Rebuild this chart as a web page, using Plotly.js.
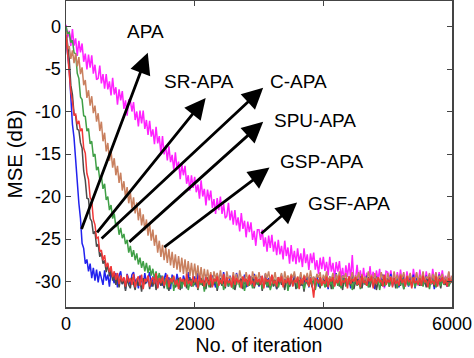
<!DOCTYPE html>
<html>
<head>
<meta charset="utf-8">
<script src="https://cdn.plot.ly/plotly-3.0.1.min.js"></script>
<style>html,body{margin:0;padding:0;background:#fff;}#chart{width:474px;height:358px;}</style>
</head>
<body>
<div id="chart"></div>
<script>
const iterations = [
0,25,50,75,100,125,150,175,200,225,250,275,300,325,350,375,400,425,450,475,
500,525,550,575,600,625,650,675,700,725,750,775,800,825,850,875,900,925,950,975,
1000,1025,1050,1075,1100,1125,1150,1175,1200,1225,1250,1275,1300,1325,1350,1375,1400,1425,1450,1475,
1500,1525,1550,1575,1600,1625,1650,1675,1700,1725,1750,1775,1800,1825,1850,1875,1900,1925,1950,1975,
2000,2025,2050,2075,2100,2125,2150,2175,2200,2225,2250,2275,2300,2325,2350,2375,2400,2425,2450,2475,
2500,2525,2550,2575,2600,2625,2650,2675,2700,2725,2750,2775,2800,2825,2850,2875,2900,2925,2950,2975,
3000,3025,3050,3075,3100,3125,3150,3175,3200,3225,3250,3275,3300,3325,3350,3375,3400,3425,3450,3475,
3500,3525,3550,3575,3600,3625,3650,3675,3700,3725,3750,3775,3800,3825,3850,3875,3900,3925,3950,3975,
4000,4025,4050,4075,4100,4125,4150,4175,4200,4225,4250,4275,4300,4325,4350,4375,4400,4425,4450,4475,
4500,4525,4550,4575,4600,4625,4650,4675,4700,4725,4750,4775,4800,4825,4850,4875,4900,4925,4950,4975,
5000,5025,5050,5075,5100,5125,5150,5175,5200,5225,5250,5275,5300,5325,5350,5375,5400,5425,5450,5475,
5500,5525,5550,5575,5600,5625,5650,5675,5700,5725,5750,5775,5800,5825,5850,5875,5900,5925,5950,5975,
6000];

const mseAPA = [
-1.5,-3.4,-5.0,-8.3,-11.5,-13.1,-16.0,-17.6,-20.8,-22.6,-25.5,-26.1,-27.9,-27.4,-28.8,-27.9,-29.6,-28.4,-29.9,-28.6,
-30.1,-28.8,-29.6,-30.4,-28.7,-29.9,-29.2,-30.6,-28.9,-29.5,-30.2,-29.0,-30.7,-29.3,-28.8,-30.3,-29.6,-30.9,-29.1,-29.8,
-30.4,-29.2,-28.9,-30.1,-29.7,-30.8,-29.3,-29.9,-30.5,-29.0,-30.2,-29.6,-28.9,-30.6,-29.4,-30.0,-29.1,-30.7,-29.8,-29.3,
-30.5,-29.7,-29.0,-30.3,-29.5,-30.9,-29.2,-29.8,-30.4,-29.1,-30.0,-29.6,-30.8,-29.3,-29.9,-30.2,-28.9,-30.5,-29.7,-30.1,
-29.4,-30.6,-29.0,-29.8,-30.3,-29.5,-30.9,-29.2,-30.1,-29.7,-30.5,-29.3,-29.9,-30.7,-29.1,-30.2,-29.6,-30.4,-28.9,-30.0,
-29.8,-30.6,-29.3,-30.1,-29.5,-30.8,-29.0,-29.9,-30.4,-29.6,-30.2,-29.2,-30.7,-29.7,-30.0,-29.4,-30.5,-29.1,-30.3,-29.8,
-30.6,-29.4,-29.9,-30.2,-29.1,-30.7,-29.6,-30.0,-29.3,-30.5,-29.8,-30.9,-29.5,-30.1,-29.2,-30.4,-29.7,-30.0,-29.4,-30.6,
-29.9,-30.3,-29.1,-30.8,-29.6,-30.0,-29.4,-30.5,-29.8,-30.2,-29.3,-30.7,-29.5,-30.1,-29.9,-30.4,-29.2,-30.6,-29.7,-30.0,
-29.5,-30.3,-29.8,-30.9,-29.4,-30.1,-29.6,-30.5,-29.0,-30.2,-29.7,-30.6,-29.3,-30.0,-29.8,-30.4,-29.5,-30.8,-29.2,-29.9,
-30.3,-29.6,-30.1,-29.4,-30.7,-29.8,-30.2,-29.3,-30.5,-29.7,-30.0,-29.5,-30.9,-29.4,-30.1,-29.8,-30.4,-29.2,-30.6,-29.9,
-29.6,-30.3,-29.1,-30.5,-29.8,-30.0,-29.4,-30.7,-29.7,-30.2,-29.3,-30.4,-29.9,-30.6,-29.5,-30.1,-29.2,-30.8,-29.6,-30.0,
-29.4,-30.5,-29.8,-30.2,-29.3,-30.6,-29.7,-30.0,-29.5,-30.9,-29.6,-30.3,-29.2,-30.4,-29.9,-30.1,-29.5,-30.6,-29.8,-30.2,
-29.7];

const mseSRAPA = [
-0.5,-2.3,-3.8,-6.9,-8.0,-10.3,-10.5,-12.1,-12.2,-13.7,-14.3,-17.0,-18.1,-20.2,-20.3,-22.6,-22.9,-24.4,-24.1,-25.9,
-25.6,-27.1,-26.6,-27.9,-27.5,-28.9,-28.0,-29.4,-28.6,-29.9,-29.0,-30.4,-29.3,-30.7,-29.5,-30.3,-29.8,-31.1,-29.6,-30.4,
-30.8,-29.5,-30.2,-31.0,-29.7,-30.5,-29.9,-31.2,-29.6,-30.3,-30.0,-29.4,-30.9,-29.8,-30.6,-29.5,-31.0,-30.1,-29.7,-30.5,
-29.9,-30.8,-29.6,-30.4,-31.1,-29.8,-30.2,-29.5,-30.7,-30.0,-29.6,-31.0,-29.9,-30.3,-29.7,-30.8,-30.1,-29.5,-30.6,-29.9,
-30.4,-29.7,-31.0,-30.0,-29.6,-30.5,-29.9,-30.9,-29.5,-30.2,-30.7,-29.8,-30.3,-29.6,-31.1,-30.0,-29.7,-30.5,-29.9,-30.8,
-29.6,-30.3,-29.9,-30.7,-29.5,-31.0,-30.1,-29.8,-30.4,-29.6,-30.9,-30.0,-29.7,-30.6,-29.9,-30.3,-29.5,-30.8,-30.1,-29.8,
-30.5,-29.6,-31.1,-29.9,-30.3,-29.7,-30.7,-30.0,-29.5,-30.6,-29.8,-30.9,-30.2,-29.6,-30.4,-29.9,-31.0,-29.7,-30.2,-30.6,
-29.8,-30.3,-29.6,-30.9,-30.0,-29.7,-30.5,-29.9,-31.2,-29.6,-30.3,-30.0,-29.8,-30.7,-29.5,-30.4,-30.1,-29.9,-30.8,-29.7,
-30.2,-29.6,-30.6,-30.0,-29.8,-30.9,-29.5,-30.3,-30.1,-29.7,-30.6,-29.9,-31.0,-29.6,-30.4,-30.2,-29.8,-30.5,-29.7,-30.9,
-30.0,-29.6,-30.4,-29.9,-30.8,-29.7,-30.3,-30.0,-29.5,-30.7,-29.9,-30.2,-29.6,-31.0,-30.1,-29.8,-30.5,-29.7,-30.3,-30.0,
-29.7,-30.6,-29.9,-30.2,-29.6,-30.8,-30.0,-29.8,-30.5,-29.6,-30.9,-30.1,-29.7,-30.4,-29.9,-30.6,-29.5,-30.3,-30.0,-29.8,
-30.5,-29.7,-30.2,-29.9,-30.7,-29.6,-30.4,-30.0,-29.8,-30.6,-29.7,-30.3,-29.9,-30.8,-29.6,-30.1,-30.4,-29.8,-30.2,-29.9,
-30.1];

const mseCAPA = [
-1.0,-3.3,-5.0,-7.7,-8.8,-10.4,-10.3,-11.5,-11.1,-12.3,-12.0,-14.3,-14.9,-17.3,-18.0,-20.1,-20.5,-22.7,-23.3,-24.9,
-24.8,-26.5,-26.3,-27.5,-26.9,-28.3,-27.8,-28.9,-28.2,-29.5,-28.8,-29.8,-29.0,-30.3,-29.3,-30.0,-29.5,-30.6,-29.2,-30.1,
-29.6,-30.4,-29.1,-30.7,-29.8,-29.4,-30.5,-29.2,-30.9,-29.7,-30.0,-29.3,-30.6,-29.8,-29.5,-30.3,-29.0,-30.8,-29.6,-30.2,
-29.4,-30.5,-29.9,-29.2,-30.7,-29.6,-30.1,-29.3,-30.4,-29.8,-30.9,-29.5,-30.0,-29.7,-30.6,-29.1,-30.3,-29.9,-30.5,-29.4,
-30.1,-29.6,-30.8,-29.3,-30.2,-29.8,-30.6,-29.5,-29.9,-30.4,-29.2,-30.7,-29.7,-30.0,-29.4,-30.5,-29.8,-30.3,-29.1,-30.6,
-29.5,-30.2,-29.9,-30.7,-29.3,-30.4,-29.6,-30.1,-29.8,-30.8,-29.4,-30.0,-29.7,-30.5,-29.2,-30.3,-29.9,-30.6,-29.5,-30.1,
-29.7,-30.4,-29.3,-30.8,-29.6,-30.0,-29.8,-30.5,-29.2,-30.3,-29.9,-30.6,-29.5,-30.1,-29.4,-30.7,-29.8,-30.2,-29.6,-30.4,
-29.3,-30.6,-29.8,-30.1,-29.5,-30.9,-29.7,-30.3,-29.4,-30.0,-29.9,-30.6,-29.6,-30.4,-31.9,-29.7,-29.8,-30.2,-29.5,-30.5,
-29.9,-30.3,-29.4,-30.7,-29.7,-30.0,-29.5,-30.6,-29.8,-30.2,-29.3,-30.5,-29.9,-30.1,-29.6,-30.8,-29.4,-30.3,-29.7,-30.0,
-29.5,-30.4,-29.8,-30.7,-29.3,-30.2,-29.9,-30.5,-29.6,-30.0,-29.4,-30.8,-29.7,-30.3,-29.5,-30.1,-29.8,-30.6,-29.2,-30.4,
-29.8,-30.1,-29.5,-30.7,-29.6,-30.3,-29.9,-30.5,-29.3,-30.2,-29.7,-30.6,-29.4,-30.0,-29.8,-30.8,-29.5,-30.2,-29.9,-30.4,
-29.6,-30.5,-29.3,-30.1,-29.8,-30.7,-29.5,-30.2,-29.9,-30.4,-29.4,-30.6,-29.7,-30.0,-29.5,-30.3,-29.8,-30.6,-29.6,-30.1,
-29.8];

const mseSPUAPA = [
0.0,-0.8,-0.7,-1.9,-1.6,-3.1,-3.2,-5.5,-6.1,-8.3,-8.6,-10.5,-10.6,-12.3,-12.0,-13.8,-13.5,-15.3,-15.0,-16.9,
-16.5,-18.0,-17.6,-19.1,-18.5,-20.4,-20.0,-21.6,-21.0,-22.6,-22.0,-23.6,-23.0,-24.5,-23.7,-24.9,-24.4,-25.6,-25.1,-26.6,
-25.8,-27.1,-26.3,-27.5,-26.7,-28.0,-27.2,-28.4,-27.6,-28.8,-27.8,-29.0,-28.1,-29.3,-28.5,-29.7,-28.8,-29.9,-29.0,-30.2,
-29.3,-30.5,-29.6,-30.9,-29.8,-30.3,-29.5,-31.1,-29.9,-30.6,-30.0,-29.6,-30.8,-29.9,-30.4,-29.7,-31.0,-30.2,-29.8,-30.6,
-30.1,-29.7,-30.9,-29.9,-30.4,-29.6,-31.2,-30.0,-29.8,-30.7,-29.9,-30.5,-30.1,-29.6,-30.8,-29.9,-30.3,-29.7,-31.0,-30.2,
-29.8,-30.6,-30.0,-29.7,-30.9,-29.9,-30.4,-29.6,-30.7,-30.1,-29.8,-31.1,-30.0,-29.7,-30.5,-29.9,-30.8,-30.2,-29.6,-30.4,
-30.0,-29.7,-30.9,-30.1,-29.8,-30.6,-29.9,-31.0,-30.3,-29.6,-30.5,-29.9,-30.7,-30.0,-29.7,-30.4,-30.1,-29.8,-31.1,-30.0,
-29.7,-30.5,-30.0,-29.8,-30.8,-29.9,-30.3,-29.6,-30.9,-30.1,-29.8,-30.6,-29.9,-30.4,-29.7,-31.0,-30.0,-29.8,-30.5,-30.2,
-29.9,-30.7,-30.0,-29.6,-30.4,-29.8,-30.9,-30.1,-29.7,-30.5,-29.9,-30.8,-30.0,-29.7,-30.6,-29.9,-30.3,-29.6,-31.0,-30.1,
-29.8,-30.5,-29.9,-30.9,-30.0,-29.7,-30.4,-29.8,-30.7,-30.1,-29.6,-30.6,-29.9,-30.3,-29.7,-31.0,-30.0,-29.8,-30.5,-30.2,
-29.9,-30.6,-29.7,-30.3,-30.0,-29.8,-30.8,-29.9,-30.4,-29.6,-30.9,-30.1,-29.8,-30.5,-29.9,-30.2,-29.7,-30.7,-30.0,-29.8,
-30.4,-29.9,-30.6,-29.7,-30.2,-30.0,-30.9,-29.8,-30.3,-29.6,-30.7,-30.1,-29.9,-30.5,-29.7,-30.4,-30.0,-29.8,-30.6,-30.1,
-30.0];

const mseGSPAPA = [
-0.6,-2.6,-2.3,-3.8,-2.8,-4.3,-3.2,-4.7,-3.6,-5.6,-4.8,-6.9,-6.3,-8.4,-7.5,-9.3,-8.2,-10.2,-9.3,-11.2,
-10.2,-12.3,-11.2,-13.5,-12.5,-14.7,-13.7,-15.8,-14.6,-16.6,-15.5,-17.5,-16.4,-18.4,-17.2,-19.3,-18.2,-20.1,-18.9,-20.8,
-19.5,-21.4,-20.1,-22.0,-20.7,-22.8,-21.4,-23.4,-22.1,-24.0,-22.7,-24.6,-23.2,-25.2,-23.9,-25.8,-24.5,-26.6,-25.2,-27.1,
-25.7,-27.5,-26.0,-27.8,-26.2,-28.1,-26.5,-28.4,-26.8,-28.6,-27.0,-28.9,-27.2,-29.1,-27.4,-29.3,-27.6,-29.4,-27.8,-29.5,
-27.9,-29.6,-28.1,-29.9,-28.3,-30.0,-28.5,-30.2,-28.6,-29.8,-28.9,-30.3,-28.8,-29.7,-29.0,-30.1,-28.7,-29.9,-29.2,-30.4,
-28.8,-29.7,-29.4,-30.2,-28.9,-29.9,-29.1,-30.3,-28.7,-29.6,-29.5,-30.1,-28.9,-29.8,-29.3,-30.4,-28.8,-29.7,-29.2,-30.0,
-28.9,-29.9,-29.4,-30.3,-29.0,-29.6,-28.8,-30.1,-29.3,-29.8,-28.9,-30.2,-29.5,-29.7,-29.0,-30.4,-28.8,-29.9,-29.3,-30.0,
-29.1,-29.6,-28.8,-30.2,-29.4,-29.8,-28.9,-30.3,-29.2,-29.7,-29.0,-30.1,-28.7,-29.9,-29.4,-30.2,-29.1,-29.6,-28.9,-30.3,
-29.2,-29.8,-28.8,-30.0,-29.5,-29.7,-29.0,-30.4,-29.1,-29.9,-28.8,-30.1,-29.3,-29.6,-29.0,-30.2,-29.4,-29.8,-28.9,-30.0,
-29.3,-29.7,-28.9,-30.3,-29.1,-29.9,-29.4,-30.0,-28.8,-29.6,-29.2,-30.2,-29.0,-29.8,-29.5,-30.1,-28.9,-29.7,-29.3,-30.3,
-29.0,-29.8,-29.4,-30.1,-28.8,-29.9,-29.2,-30.2,-29.1,-29.6,-28.9,-30.4,-29.3,-29.7,-29.0,-30.0,-29.5,-29.8,-28.9,-30.2,
-29.2,-29.9,-28.8,-30.1,-29.4,-29.7,-29.0,-30.3,-29.1,-29.8,-28.9,-30.0,-29.3,-29.6,-29.1,-30.2,-29.4,-29.9,-28.8,-30.1,
-29.3];

const mseGSFAPA = [
0.2,-1.3,-0.5,-2.3,-0.3,-2.25,-1.4,-3.45,-1.7,-3.05,-2.0,-4.15,-3.2,-5.05,-3.3,-4.85,-3.4,-5.55,-4.5,-6.25,
-6.1,-4.6,-6.7,-5.6,-7.3,-5.6,-7.4,-6.45,-8.1,-6.05,-8.0,-7.15,-9.2,-7.4,-8.7,-7.6,-9.7,-8.7,-10.5,-8.65,
-8.7,-10.0,-8.9,-11.0,-10.0,-11.75,-9.9,-11.4,-9.9,-12.05,-11.0,-12.75,-11.1,-12.95,-12.1,-13.85,-11.8,-13.75,-12.9,-14.95,
-12.9,-15.05,-14.0,-15.75,-14.1,-15.95,-15.1,-16.85,-14.8,-16.75,-15.9,-17.95,-16.2,-17.5,-16.4,-18.5,-17.5,-19.3,-17.5,-19.0,
-17.7,-19.5,-18.6,-20.25,-18.1,-20.0,-19.1,-21.05,-19.2,-20.45,-19.3,-21.35,-20.3,-22.05,-20.2,-21.6,-20.0,-22.05,-20.9,-22.55,
-22.3,-20.75,-22.8,-21.65,-23.3,-21.6,-23.4,-22.45,-24.1,-21.95,-23.8,-22.85,-24.8,-22.95,-24.2,-23.05,-25.1,-24.05,-25.8,-23.9,
-23.9,-25.1,-23.9,-25.9,-24.8,-26.5,-24.6,-26.05,-24.5,-26.5,-25.3,-26.9,-25.1,-26.8,-25.8,-27.4,-25.2,-27.0,-26.0,-27.9,
-25.7,-27.65,-26.4,-27.95,-26.1,-27.75,-26.7,-28.3,-26.1,-27.85,-26.8,-28.65,-26.7,-27.85,-26.6,-28.6,-27.5,-29.15,-27.2,-28.55,
-27.1,-28.75,-27.7,-29.3,-27.1,-28.85,-27.8,-29.65,-27.7,-28.85,-27.6,-29.55,-28.4,-30.05,-28.1,-29.45,-27.8,-29.75,-26.9,-30.05,
-29.7,-28.05,-30.0,-28.7,-30.25,-28.4,-30.0,-28.95,-30.5,-28.2,-29.9,-28.85,-30.7,-28.7,-29.8,-28.5,-30.4,-29.2,-30.8,-28.8,
-28.9,-29.7,-28.7,-30.2,-29.3,-30.5,-28.9,-30.0,-28.6,-30.1,-29.1,-30.3,-28.8,-30.1,-29.2,-30.4,-28.5,-29.9,-29.0,-30.5,
-28.6,-30.1,-29.1,-30.3,-28.8,-30.1,-29.2,-30.4,-28.5,-29.9,-29.0,-30.5,-28.9,-29.8,-28.7,-30.2,-29.3,-30.6,-28.9,-30.0,
-29.4];

const seriesNames = ['GSF-APA','APA','SR-APA','SPU-APA','GSP-APA','C-APA'];
const seriesData = [mseGSFAPA, mseAPA, mseSRAPA, mseSPUAPA, mseGSPAPA, mseCAPA];
const seriesColors = ['#ff22ff','#2222ee','#4a4a4a','#3f9f46','#c9805f','#f03838'];

const xTicks = [0,2000,4000,6000];
const yTicks = [0,-5,-10,-15,-20,-25,-30];

// label and arrow annotation placements (data units)
const labelText = ['APA','SR-APA','C-APA','SPU-APA','GSP-APA','GSF-APA'];
const labelX = [1240,2067,3617,3876,3974,4400];
const labelY = [-0.6,-6.5,-6.5,-11.0,-15.9,-20.8];
const arrowTailX = [233,465,530,961,1504,3013];
const arrowTailY = [-24.0,-24.4,-25.1,-25.5,-26.1,-24.5];
const arrowHeadX = [1271,2171,3065,3065,3163,3592];
const arrowHeadY = [-3.1,-8.4,-7.2,-11.2,-16.6,-20.7];

const traces = seriesData.map((d, i) => ({
  type: 'scatter', mode: 'lines', x: iterations, y: d, name: seriesNames[i],
  line: {color: seriesColors[i], width: 1.5}
}));

const font = 'Liberation Sans, Arial, Helvetica, sans-serif';
const annotations = [];
labelText.forEach((t, i) => {
  annotations.push({x: labelX[i], y: labelY[i], xref: 'x', yref: 'y', text: t,
    showarrow: false, xanchor: 'center', yanchor: 'middle',
    font: {family: font, size: 19, color: '#000'}});
  annotations.push({x: arrowHeadX[i], y: arrowHeadY[i], ax: arrowTailX[i], ay: arrowTailY[i],
    xref: 'x', yref: 'y', axref: 'x', ayref: 'y', text: '', showarrow: true,
    arrowhead: 2, arrowsize: 1.5, arrowwidth: 2.8, arrowcolor: '#000', standoff: 0, startstandoff: 0});
});

const layout = {
  width: 474, height: 358,
  margin: {l: 66, r: 22, t: 1, b: 51},
  paper_bgcolor: '#fff', plot_bgcolor: '#fff',
  showlegend: false,
  font: {family: font, size: 18, color: '#000'},
  xaxis: {range: [0, 6000], tickvals: xTicks, ticktext: xTicks.map(String),
    ticks: 'inside', ticklen: 5, tickcolor: '#444', showline: true, linecolor: '#444', linewidth: 1.5,
    mirror: 'ticks', showgrid: false, zeroline: false,
    title: {text: 'No. of iteration', font: {size: 19.5}, standoff: 4},
    tickfont: {size: 18}},
  yaxis: {range: [-33, 3], tickvals: yTicks, ticktext: yTicks.map(String),
    ticks: 'inside', ticklen: 5, tickcolor: '#444', showline: true, linecolor: '#444', linewidth: 1.5,
    mirror: 'ticks', showgrid: false, zeroline: false,
    title: {text: 'MSE (dB)', font: {size: 20.5}, standoff: 6},
    tickfont: {size: 18}},
  annotations: annotations
};

Plotly.newPlot('chart', traces, layout, {staticPlot: true, displayModeBar: false});
</script>
</body>
</html>
